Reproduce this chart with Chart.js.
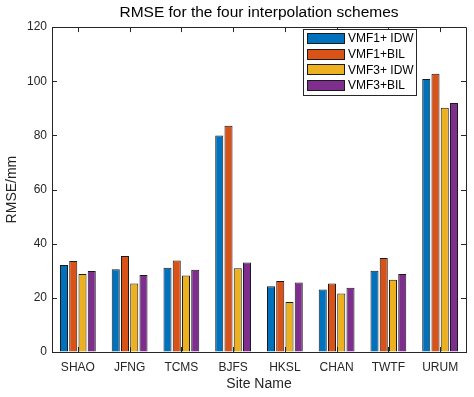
<!DOCTYPE html>
<html>
<head>
<meta charset="utf-8">
<script src="https://cdn.jsdelivr.net/npm/chart.js@4"></script>
<style>
  html, body { margin: 0; padding: 0; background: #fff; }
  #wrap { width: 474px; height: 397px; }
</style>
</head>
<body>
<div id="wrap"><canvas id="rmseChart" width="474" height="397"></canvas></div>
<script>
// Datos
var sites = ['SHAO', 'JFNG', 'TCMS', 'BJFS', 'HKSL', 'CHAN', 'TWTF', 'URUM'];
var vmf1Idw = [32.1, 30.6, 31.1, 80.0, 24.3, 23.1, 30.0, 100.8];
var vmf1Bil = [33.6, 35.5, 33.8, 83.6, 26.2, 25.3, 34.7, 102.8];
var vmf3Idw = [28.8, 25.3, 28.3, 30.9, 18.5, 21.6, 26.7, 90.2];
var vmf3Bil = [29.9, 28.4, 30.4, 33.1, 25.7, 23.7, 28.8, 92.0];
var seriesNames = ['VMF1+ IDW', 'VMF1+BIL', 'VMF3+ IDW', 'VMF3+BIL'];
var yTicks = [0, 20, 40, 60, 80, 100, 120];

var colores = ['#0072BD', '#D95319', '#EDB120', '#7E2F8E'];
var fontFam = "'Liberation Sans', Arial, Helvetica, sans-serif";
var axisColor = '#262626';

// Caja y marcas hacia adentro, estilo MATLAB
var boxPlugin = {
    id: 'boxTicks',
    afterDatasetsDraw: function (chart) {
        var ctx = chart.ctx;
        var a = chart.chartArea;
        var x = chart.scales.x, y = chart.scales.y;
        var tl = 5;
        ctx.save();
        ctx.strokeStyle = axisColor;
        ctx.lineWidth = 1;
        ctx.beginPath();
        // borde
        ctx.rect(Math.round(a.left) + 0.5, Math.round(a.top) + 0.5,
                 Math.round(a.right - a.left), Math.round(a.bottom - a.top));
        // marcas eje y
        yTicks.forEach(function (v) {
            var py = Math.round(y.getPixelForValue(v)) + 0.5;
            ctx.moveTo(a.left, py); ctx.lineTo(a.left + tl, py);
            ctx.moveTo(a.right, py); ctx.lineTo(a.right - tl, py);
        });
        // marcas eje x
        sites.forEach(function (s, i) {
            var px = Math.round(x.getPixelForValue(i)) + 0.5;
            ctx.moveTo(px, a.bottom); ctx.lineTo(px, a.bottom - tl);
            ctx.moveTo(px, a.top); ctx.lineTo(px, a.top + tl);
        });
        ctx.stroke();
        ctx.restore();
    }
};

// Leyenda dentro del area, arriba a la derecha
var legendPlugin = {
    id: 'boxLegend',
    afterDraw: function (chart) {
        var ctx = chart.ctx;
        var bx = 303, by = 29, bw = 113, bh = 66;
        ctx.save();
        ctx.fillStyle = '#fff';
        ctx.fillRect(bx, by, bw, bh);
        ctx.strokeStyle = axisColor;
        ctx.lineWidth = 1;
        ctx.strokeRect(bx + 0.5, by + 0.5, bw, bh);
        ctx.font = '12px ' + fontFam;
        ctx.textBaseline = 'middle';
        ctx.textAlign = 'left';
        chart.data.datasets.forEach(function (ds, i) {
            var cy = 38.5 + i * 15.6;
            ctx.fillStyle = ds.backgroundColor;
            ctx.fillRect(307, Math.round(cy - 5.5), 38, 11);
            ctx.strokeStyle = '#1a1a1a';
            ctx.strokeRect(307.5, Math.round(cy - 5.5) + 0.5, 37, 10);
            ctx.fillStyle = '#000';
            ctx.fillText(ds.label, 348, cy + 0.5);
        });
        ctx.restore();
    }
};

var datasets = [vmf1Idw, vmf1Bil, vmf3Idw, vmf3Bil].map(function (vals, i) {
    return {
        label: seriesNames[i],
        data: vals,
        backgroundColor: colores[i],
        borderColor: '#1a1a1a',
        borderWidth: 1,
        categoryPercentage: 0.715,
        barPercentage: 0.87
    };
});

var rmseChart = new Chart(document.getElementById('rmseChart').getContext('2d'), {
    type: 'bar',
    data: { labels: sites, datasets: datasets },
    options: {
        responsive: false,
        devicePixelRatio: 1,
        animation: false,
        layout: { padding: { left: 0, right: 8, top: 0, bottom: 0 } },
        plugins: {
            legend: { display: false },
            tooltip: { enabled: false },
            title: {
                display: true,
                fullSize: false,
                text: 'RMSE for the four interpolation schemes',
                color: '#000',
                font: { family: fontFam, size: 15.5, weight: 'normal' },
                padding: { top: 3, bottom: 5.5 }
            }
        },
        scales: {
            x: {
                grid: { display: true, drawOnChartArea: false, drawTicks: false, offset: false },
                border: { color: axisColor },
                ticks: { color: axisColor, padding: 8, font: { family: fontFam, size: 12 } },
                title: {
                    display: true, text: 'Site Name', color: axisColor,
                    font: { family: fontFam, size: 14 }, padding: { top: 0, bottom: 4 }
                },
                afterFit: function (scale) { scale.height = 45; }
            },
            y: {
                min: 0,
                max: 120,
                grid: { display: true, drawOnChartArea: false, drawTicks: false },
                border: { color: axisColor },
                ticks: {
                    stepSize: 20, color: axisColor, padding: 5,
                    font: { family: fontFam, size: 12 }
                },
                title: {
                    display: true, text: 'RMSE/mm', color: axisColor,
                    font: { family: fontFam, size: 14 }, padding: { top: 4, bottom: 0 }
                },
                afterFit: function (scale) { scale.width = 52; }
            }
        }
    },
    plugins: [boxPlugin, legendPlugin]
});
</script>
</body>
</html>
